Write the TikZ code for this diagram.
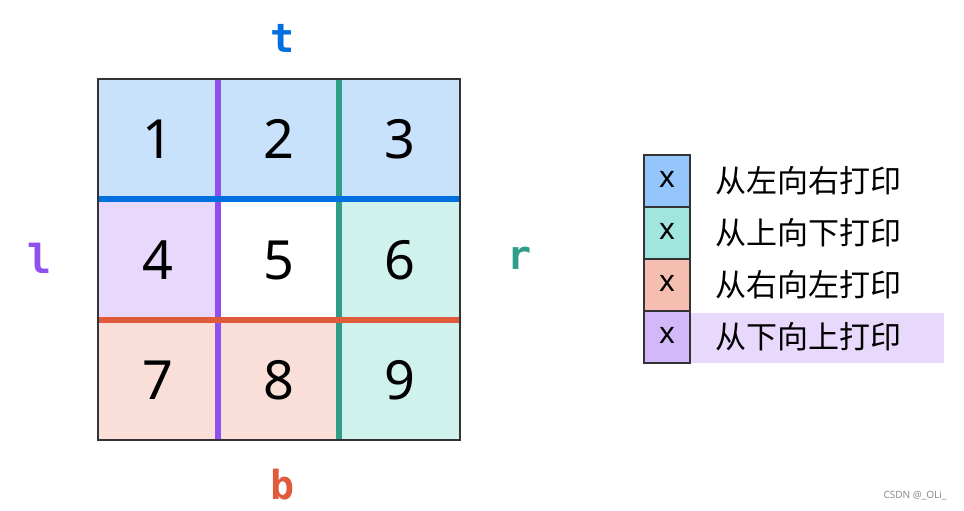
\documentclass[tikz,border=0pt]{standalone}
\usepackage{fontspec}
\setmainfont{Noto Sans}
\newfontfamily\cjk{Noto Sans CJK SC}
\newfontfamily\monob{DejaVu Sans Mono}
\definecolor{cblue}{HTML}{C8E2FC}
\definecolor{clav}{HTML}{E8D9FC}
\definecolor{cteal}{HTML}{D0F2EC}
\definecolor{corg}{HTML}{FADFD8}
\definecolor{lpur}{HTML}{9050F0}
\definecolor{lteal}{HTML}{2E9E8A}
\definecolor{lblue}{HTML}{0070E0}
\definecolor{lorg}{HTML}{E05A3C}
\definecolor{kblue}{HTML}{94C6FC}
\definecolor{kteal}{HTML}{A0E6DC}
\definecolor{korg}{HTML}{F5BEB0}
\definecolor{kpur}{HTML}{D2B8F8}
\begin{document}
\begin{tikzpicture}[x=1pt,y=-1pt,
  num/.style={font=\fontsize{54}{54}\selectfont},
  side/.style={font=\monob\bfseries\fontsize{40}{40}\selectfont},
  key/.style={draw=black!80,line width=1.2pt},
  lbl/.style={anchor=west,font=\cjk\fontsize{31}{31}\selectfont}]
\useasboundingbox[fill=white] (0,0) rectangle (964,511);
% fills
\fill[cblue] (98,79) rectangle (460,199);
\fill[clav] (98,199) rectangle (218,320);
\fill[cteal] (339,199) rectangle (460,440);
\fill[corg] (98,320) rectangle (339,440);
% lines
\draw[lpur,line width=6pt] (218,79) -- (218,440);
\draw[lteal,line width=6pt] (339,79) -- (339,440);
\draw[lblue,line width=6pt] (98,199) -- (460,199);
\draw[lorg,line width=6pt] (98,320) -- (460,320);
\draw[black!80,line width=1.5pt] (98,79) rectangle (460,440);
% numbers
\foreach \n/\x/\y in {1/158/139,2/279/139,3/400/139,4/158/260,5/279/260,6/400/260,7/158/380,8/279/380,9/400/380}
  \node[num] (n\n) at (\x,\y) {\n};
\node[side,text=lblue] (t) at (283,38) {t};
\node[side,text=lpur] (l) at (40,258) {l};
\node[side,text=lteal] (r) at (520,258) {r};
\node[side,text=lorg] (b) at (283,485) {b};
% legend
\fill[clav] (690,313) rectangle (944,363);
\foreach \c/\y/\t [count=\i] in {kblue/155/从左向右打印,kteal/207/从上向下打印,korg/259/从右向左打印,kpur/311/从下向上打印}{
  \draw[key,fill=\c] (644,\y) rectangle (690,\y+52);
  \node[font=\fontsize{30}{30}\selectfont] (x\i) at (667,\y+24) {x};
  \node[lbl] (k\i) at (712,\y+26) {\t};
}
\node[text=black!45,font=\fontsize{10}{10}\selectfont] (wm) at (915,496) {CSDN @\_OLi\_};
\end{tikzpicture}
\end{document}
